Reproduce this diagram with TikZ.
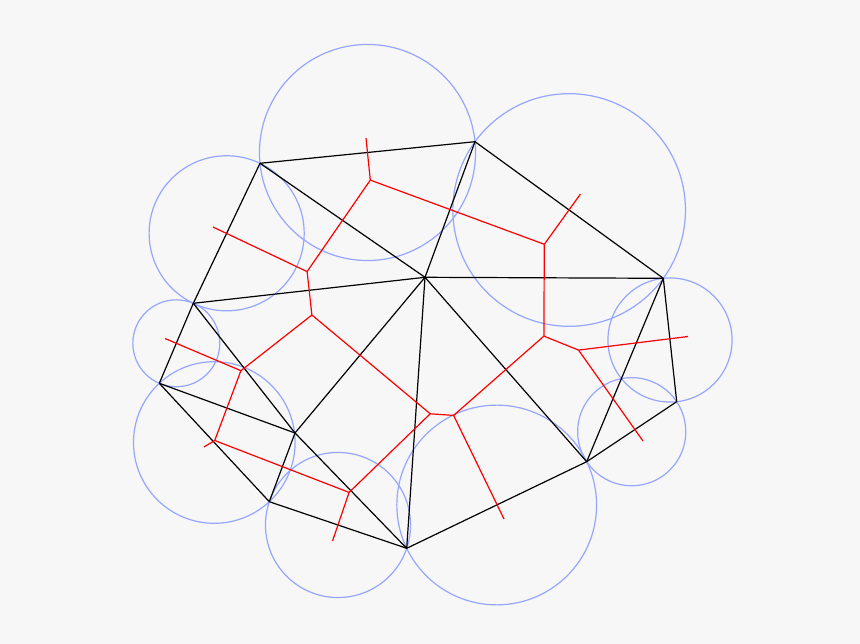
\documentclass[tikz,border=0pt]{standalone}
\usetikzlibrary{calc}
\definecolor{bgc}{RGB}{247,247,248}
\definecolor{circ}{RGB}{150,166,255}
\definecolor{vor}{RGB}{255,0,0}
\tikzset{
  tri/.style={draw=black,line width=1.2pt},
  vedge/.style={draw=vor,line width=1.2pt},
  gab/.style={draw=circ,line width=1.2pt}
}
\begin{document}
\begin{tikzpicture}[x=1pt,y=-1pt]
\fill[bgc] (0,0) rectangle (860,644);
\useasboundingbox (0,0) rectangle (860,644);
% sites
\coordinate (A) at (260,163.3);
\coordinate (B) at (475,141.7);
\coordinate (C) at (663.3,278.3);
\coordinate (D) at (425,277.3);
\coordinate (E) at (193.3,303.3);
\coordinate (F) at (159.3,383.3);
\coordinate (G) at (676.7,401.7);
\coordinate (H) at (586.7,461.7);
\coordinate (I) at (295,433);
\coordinate (J) at (269.3,501.7);
\coordinate (K) at (406.7,548.3);
% voronoi vertices
\coordinate (V1) at (370.3,180.1);
\coordinate (V2) at (544.3,244.3);
\coordinate (V3) at (307.1,271.6);
\coordinate (V4) at (311.9,315.0);
\coordinate (V5) at (240.9,370.7);
\coordinate (V6) at (214.7,440.5);
\coordinate (V7) at (349.1,492.4);
\coordinate (V8) at (430.2,413.8);
\coordinate (V9) at (453.6,415.4);
\coordinate (V10) at (543.9,336.1);
\coordinate (V11) at (578.5,350.1);
% ray ends
\coordinate (R1) at (366,138);
\coordinate (R2) at (580.5,194);
\coordinate (R3) at (213,227);
\coordinate (R5) at (165,338.5);
\coordinate (R6) at (204,447);
\coordinate (R7) at (332.5,541);
\coordinate (R9) at (504,519);
\coordinate (R11a) at (688,336.5);
\coordinate (R11b) at (643,441);
% diametral circles of hull edges
\foreach \u/\w in {A/B,B/C,C/G,G/H,H/K,K/J,J/F,F/E,E/A}{
  \path[gab] let \p1=($(\u)-(\w)$), \n1={veclen(\x1,\y1)/2} in
    ($(\u)!0.5!(\w)$) circle[radius=\n1];
}
% triangulation
\foreach \u/\w in {A/B,B/C,C/G,G/H,H/K,K/J,J/F,F/E,E/A,A/D,B/D,C/D,E/D,D/I,D/K,D/H,E/I,F/I,J/I,K/I,C/H}{
  \draw[tri] (\u) -- (\w);
}
% voronoi
\foreach \u/\w in {V1/V2,V1/V3,V3/V4,V4/V5,V4/V8,V5/V6,V6/V7,V7/V8,V8/V9,V9/V10,V10/V2,V10/V11,V1/R1,V2/R2,V3/R3,V5/R5,V6/R6,V7/R7,V9/R9,V11/R11a,V11/R11b}{
  \draw[vedge] (\u) -- (\w);
}
\end{tikzpicture}
\end{document}
